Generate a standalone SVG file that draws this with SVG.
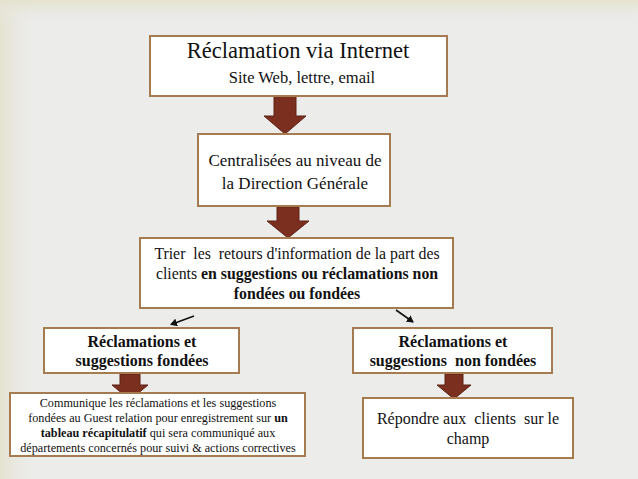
<svg xmlns="http://www.w3.org/2000/svg" width="638" height="479" viewBox="0 0 638 479">
<defs>
<linearGradient id="lg" x1="0" y1="0" x2="1" y2="0">
<stop offset="0" stop-color="#e5e2cf"/><stop offset="1" stop-color="#ebebe8" stop-opacity="0"/>
</linearGradient>
<linearGradient id="tg" x1="0" y1="0" x2="0" y2="1">
<stop offset="0" stop-color="#e5e2cf"/><stop offset="1" stop-color="#ebebe8" stop-opacity="0"/>
</linearGradient>
<marker id="ah" markerWidth="8" markerHeight="8" refX="6" refY="4" orient="auto" markerUnits="userSpaceOnUse">
<path d="M0,0 L7,4 L0,8 Z" fill="#111"/>
</marker>
</defs>
<style>
.box{fill:#fff;stroke:#a57b4f;stroke-width:2}
text{font-family:'Liberation Serif','Times New Roman',serif;fill:#111;text-anchor:middle;white-space:pre}
.b{font-weight:bold}
.arr{fill:#7b2f1f;stroke:#5e2214;stroke-width:1}
.thin{stroke:#111;stroke-width:1.6;fill:none}
</style>
<rect width="638" height="479" fill="#ececeb"/>
<rect width="40" height="479" fill="url(#lg)"/>
<rect width="638" height="25" fill="url(#tg)"/>
<g id="connectors">
<path class="arr" d="M274,96 H296 V116 H306 L285,134 L264,116 H274 Z"/>
<path class="arr" d="M277,207 H299 V221 H309 L288,238 L267,221 H277 Z"/>
<path class="arr" d="M120,374 H140 V385 H148 L130,400 L112,385 H120 Z"/>
<path class="arr" d="M445,374 H463 V385 H471 L454,399 L437,385 H445 Z"/>
<line class="thin" x1="194" y1="316" x2="171" y2="324.5" marker-end="url(#ah)"/>
<line class="thin" x1="396" y1="310" x2="413" y2="322" marker-end="url(#ah)"/>
</g>
<g id="n1" font-family="Liberation Serif, serif">
<rect class="box" x="150" y="36" width="297" height="60"/>
<text x="298" y="58" font-size="22.5">Réclamation via Internet</text>
<text x="302" y="83" font-size="16.5">Site Web, lettre, email</text>
</g>
<g id="n2" font-family="Liberation Serif, serif">
<rect class="box" x="198" y="134" width="192" height="72"/>
<text x="295" y="166" font-size="17">Centralisées au niveau de</text>
<text x="295" y="189" font-size="17">la Direction Générale</text>
</g>
<g id="n3" font-family="Liberation Serif, serif">
<rect class="box" x="140" y="238" width="313" height="70"/>
<text x="297" y="259" font-size="15.8" xml:space="preserve">Trier  les  retours d'information de la part des</text>
<text x="297" y="279" font-size="15.8">clients <tspan class="b">en suggestions ou réclamations non</tspan></text>
<text class="b" x="297" y="299" font-size="15.8">fondées ou fondées</text>
</g>
<g id="n4" font-family="Liberation Serif, serif">
<rect class="box" x="44" y="328" width="195" height="45"/>
<text class="b" x="142" y="347" font-size="16">Réclamations et</text>
<text class="b" x="142" y="366" font-size="16">suggestions fondées</text>
</g>
<g id="n5" font-family="Liberation Serif, serif">
<rect class="box" x="10" y="393" width="295" height="63"/>
<text x="158" y="407" font-size="12.2">Communique les réclamations et les suggestions</text>
<text x="158" y="422" font-size="12.2">fondées au Guest relation pour enregistrement sur <tspan class="b">un</tspan></text>
<text x="158" y="437" font-size="12.2"><tspan class="b">tableau récapitulatif</tspan> qui sera communiqué aux</text>
<text x="158" y="452" font-size="12.2">départements concernés pour suivi &amp; actions correctives</text>
</g>
<g id="n6" font-family="Liberation Serif, serif">
<rect class="box" x="353" y="328" width="199" height="45"/>
<text class="b" x="453" y="347" font-size="16">Réclamations et</text>
<text class="b" x="453" y="366" font-size="16" xml:space="preserve">suggestions  non fondées</text>
</g>
<g id="n7" font-family="Liberation Serif, serif">
<rect class="box" x="363" y="398" width="210" height="60"/>
<text x="468" y="424" font-size="16" xml:space="preserve">Répondre aux  clients  sur le</text>
<text x="468" y="444" font-size="16">champ</text>
</g>
</svg>
